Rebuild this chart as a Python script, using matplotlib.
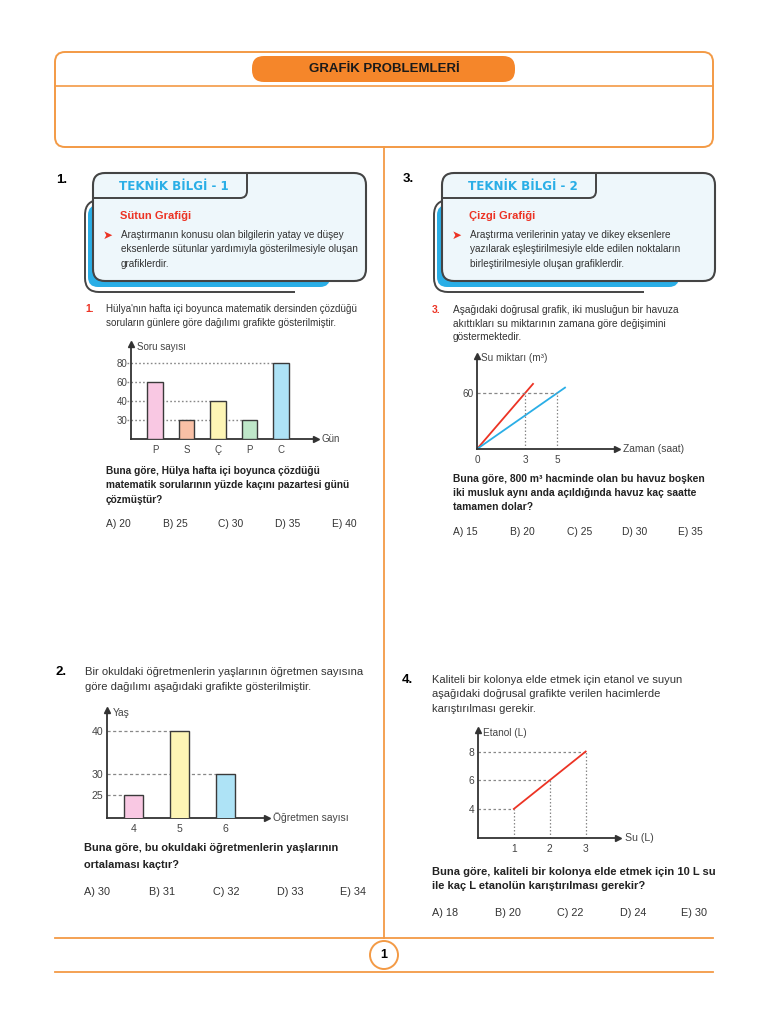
import numpy as np
import matplotlib
matplotlib.use("Agg")
import matplotlib.pyplot as plt
from matplotlib.patches import FancyBboxPatch, Circle
from matplotlib.path import Path
from matplotlib.patches import PathPatch

plt.rcParams['font.family'] = ['Liberation Sans', 'DejaVu Sans']

# ---- data ----
# soru 1: sutun grafigi
gunler = ['P', 'S', 'Ç', 'P', 'C']
soru_sayisi = [60, 30, 40, 30, 80]
soru_ticks = [30, 40, 60, 80]
bar1_colors = ['#F9C8E3', '#F9C0A6', '#FDF5B5', '#BFE7C9', '#AEE3F6']

# soru 2
ogretmen_sayisi = [4, 5, 6]
yas = [25, 40, 30]
bar2_colors = ['#F9C8E3', '#FDF5B5', '#AEE3F6']

# soru 3: iki musluk
musluk_kirmizi_t = [0, 3.5]
musluk_kirmizi_v = [0, 70]
musluk_mavi_t = [0, 5.5]
musluk_mavi_v = [0, 66]

# soru 4
su_L = [1, 2, 3]
etanol_L = [4, 6, 8]

ORANGE = '#F39A45'
ORANGE_D = '#F5862A'
RED = '#EC3324'
CYAN = '#2AAEE6'
GRAY = '#444444'
AX = '#333333'

W, H = 768, 1024
fig = plt.figure(figsize=(W / 100, H / 100), dpi=100)
page = fig.add_axes([0, 0, 1, 1])
page.set_xlim(0, W)
page.set_ylim(H, 0)
page.axis('off')


def txt(x, y, s, size=7.2, **kw):
    page.text(x, y, s, fontsize=size, va='center', **kw)


# ---- header ----
page.add_patch(FancyBboxPatch((55, 52), 658, 95, boxstyle="round,pad=0,rounding_size=10",
                              fc='white', ec=ORANGE, lw=1.4))
page.plot([55, 713], [86, 86], color=ORANGE, lw=1.2)
page.add_patch(FancyBboxPatch((252, 56), 263, 26, boxstyle="round,pad=0,rounding_size=12",
                              fc=ORANGE_D, ec='none'))
page.text(384, 69.5, 'GRAFİK PROBLEMLERİ', fontsize=9.5, fontweight='bold', ha='center',
          va='center', family=['Liberation Sans Narrow', 'Liberation Sans'], color='#1a1a1a')

# column divider and footer
page.plot([384, 384], [147, 938], color=ORANGE, lw=1.3)
page.plot([55, 713], [938, 938], color=ORANGE, lw=1.3)
page.plot([55, 713], [972, 972], color=ORANGE, lw=1.3)
page.add_patch(Circle((384, 955), 14, fc='white', ec=ORANGE, lw=1.4))
page.text(384, 955.5, '1', fontsize=9, fontweight='bold', ha='center', va='center')


def info_box(dx, no, heading, lines):
    # back outline
    verts = [(100 + dx, 200), (85 + dx, 200), (85 + dx, 215), (85 + dx, 278),
             (85 + dx, 292), (99 + dx, 292), (295 + dx, 292)]
    codes = [Path.MOVETO, Path.CURVE3, Path.CURVE3, Path.LINETO,
             Path.CURVE3, Path.CURVE3, Path.LINETO]
    page.add_patch(PathPatch(Path(verts, codes), fc='none', ec=GRAY, lw=1.4))
    # cyan shadow
    page.add_patch(FancyBboxPatch((88 + dx, 205), 242, 82, boxstyle="round,pad=0,rounding_size=10",
                                  fc=CYAN, ec='none'))
    # main box
    page.add_patch(FancyBboxPatch((93 + dx, 173), 273, 108, boxstyle="round,pad=0,rounding_size=12",
                                  fc='#EEF7FB', ec=GRAY, lw=1.5))
    tab = [(93 + dx, 198), (240 + dx, 198), (247 + dx, 198), (247 + dx, 191), (247 + dx, 173)]
    tcodes = [Path.MOVETO, Path.LINETO, Path.CURVE3, Path.CURVE3, Path.LINETO]
    page.add_patch(PathPatch(Path(tab, tcodes), fc='none', ec=GRAY, lw=1.4))
    page.text(174 + dx, 187, 'TEKNİK BİLGİ - ' + no, fontsize=8.6, fontweight='bold',
              color=CYAN, ha='center', va='center', family='DejaVu Sans')
    page.text(120 + dx, 216, heading, fontsize=8.0, fontweight='bold', color=RED, va='center')
    page.text(103 + dx, 235, '➤', fontsize=8.5, color=RED, va='center', family='DejaVu Sans')
    for i, l in enumerate(lines):
        page.text(121 + dx, 235 + i * 14.3, l, fontsize=7.2, color='#333333', va='center')


txt(56, 180, '1.', size=9.5, fontweight='bold')
txt(403, 179, '3.', size=9.5, fontweight='bold')
info_box(0, '1', 'Sütun Grafiği',
         ['Araştırmanın konusu olan bilgilerin yatay ve düşey',
          'eksenlerde sütunlar yardımıyla gösterilmesiyle oluşan',
          'grafiklerdir.'])
info_box(349, '2', 'Çizgi Grafiği',
         ['Araştırma verilerinin yatay ve dikey eksenlere',
          'yazılarak eşleştirilmesiyle elde edilen noktaların',
          'birleştirilmesiyle oluşan grafiklerdir.'])

BODY = '#333333'
BOLD = '#222222'

# ---- problem 1 text ----
txt(85, 309, '1.', size=7.4, fontweight='bold', color=RED)
txt(106, 309, 'Hülya\'nın hafta içi boyunca matematik dersinden çözdüğü', size=7.15, color=BODY)
txt(106, 323, 'soruların günlere göre dağılımı grafikte gösterilmiştir.', size=7.15, color=BODY)
for i, l in enumerate(['Buna göre, Hülya hafta içi boyunca çözdüğü',
                       'matematik sorularının yüzde kaçını pazartesi günü',
                       'çözmüştür?']):
    txt(106, 471 + i * 14.3, l, size=7.3, fontweight='bold', color=BOLD)
for x, s in zip([106, 163, 218, 275, 332], ['A) 20', 'B) 25', 'C) 30', 'D) 35', 'E) 40']):
    txt(x, 524, s, size=7.4, color=BODY)

# ---- problem 3 text ----
txt(432, 310, '3.', size=7.4, fontweight='bold', color=RED)
for i, l in enumerate(['Aşağıdaki doğrusal grafik, iki musluğun bir havuza',
                       'akıttıkları su miktarının zamana göre değişimini',
                       'göstermektedir.']):
    txt(453, 310 + i * 13.7, l, size=7.25, color=BODY)
for i, l in enumerate(['Buna göre, 800 m³ hacminde olan bu havuz boşken',
                       'iki musluk aynı anda açıldığında havuz kaç saatte',
                       'tamamen dolar?']):
    txt(453, 479 + i * 14, l, size=7.4, fontweight='bold', color=BOLD)
for x, s in zip([453, 510, 567, 622, 678], ['A) 15', 'B) 20', 'C) 25', 'D) 30', 'E) 35']):
    txt(x, 532, s, size=7.4, color=BODY)

# ---- problem 2 text ----
txt(56, 672, '2.', size=9.5, fontweight='bold')
txt(85, 672, 'Bir okuldaki öğretmenlerin yaşlarının öğretmen sayısına', size=8.1, color=BODY)
txt(85, 687, 'göre dağılımı aşağıdaki grafikte gösterilmiştir.', size=8.1, color=BODY)
txt(84, 848, 'Buna göre, bu okuldaki öğretmenlerin yaşlarının', size=7.9, fontweight='bold', color=BOLD)
txt(84, 865, 'ortalaması kaçtır?', size=7.9, fontweight='bold', color=BOLD)
for x, s in zip([84, 149, 213, 277, 340], ['A) 30', 'B) 31', 'C) 32', 'D) 33', 'E) 34']):
    txt(x, 892, s, size=7.8, color=BODY)

# ---- problem 4 text ----
txt(402, 680, '4.', size=9.5, fontweight='bold')
for i, l in enumerate(['Kaliteli bir kolonya elde etmek için etanol ve suyun',
                       'aşağıdaki doğrusal grafikte verilen hacimlerde',
                       'karıştırılması gerekir.']):
    txt(432, 680 + i * 14.3, l, size=8.0, color=BODY)
txt(432, 872, 'Buna göre, kaliteli bir kolonya elde etmek için 10 L su', size=8.0, fontweight='bold', color=BOLD)
txt(432, 886, 'ile kaç L etanolün karıştırılması gerekir?', size=8.0, fontweight='bold', color=BOLD)
for x, s in zip([432, 495, 557, 620, 681], ['A) 18', 'B) 20', 'C) 22', 'D) 24', 'E) 30']):
    txt(x, 913, s, size=7.8, color=BODY)


def chart_axes(x0, x1, ytop, ybase):
    ax = fig.add_axes([x0 / W, 1 - ybase / H, (x1 - x0) / W, (ybase - ytop) / H])
    ax.patch.set_alpha(0)
    for s in ['top', 'right']:
        ax.spines[s].set_visible(False)
    for s in ['left', 'bottom']:
        ax.spines[s].set_color(AX)
        ax.spines[s].set_linewidth(1.3)
    ax.plot(1, 0, '>', color=AX, ms=4, transform=ax.transAxes, clip_on=False)
    ax.plot(0, 1, '^', color=AX, ms=4, transform=ax.transAxes, clip_on=False)
    ax.tick_params(length=0, labelsize=6.8, labelcolor='#444444', pad=4)
    ax.tick_params(axis='y', pad=2.5)
    return ax


# ---- chart 1 ----
ax1 = chart_axes(131, 316, 344, 439)
vals = [0, 30, 40, 60, 80, 100]
lvls = [0, 1, 2, 3, 4, 5]
ax1.set_yscale('function', functions=(lambda v: np.interp(v, vals, lvls),
                                      lambda l: np.interp(l, lvls, vals)))
pos1 = np.arange(len(gunler))
ax1.bar(pos1, soru_sayisi, width=0.5, color=bar1_colors, edgecolor='#3a3a3a', lw=1.0, zorder=3)
ax1.set_xlim(-0.76, 5.11)
ax1.set_ylim(0, 100)
ax1.set_yticks(soru_ticks)
ax1.set_xticks(pos1, gunler)
for t in soru_ticks:
    far = max(i for i, v in enumerate(soru_sayisi) if v == t)
    ax1.hlines(t, -0.9, far - 0.25, colors='#888888', linestyles=(0, (1.2, 1.6)), lw=1.0,
               zorder=1, clip_on=False)
ax1.yaxis.set_minor_locator(matplotlib.ticker.NullLocator())
ax1.tick_params(labelsize=7.0)
txt(137, 347, 'Soru sayısı', size=7.0, color='#444444')
txt(322, 439, 'Gün', size=7.0, color='#444444')

# ---- chart 2 ----
ax2 = chart_axes(107, 267, 710, 818)
ax2.bar(ogretmen_sayisi, yas, width=0.41, color=bar2_colors, edgecolor='#3a3a3a', lw=1.0, zorder=3)
ax2.set_xlim(3.42, 6.9)
ax2.set_ylim(19.6, 44.9)
ax2.set_xticks(ogretmen_sayisi)
ax2.set_yticks(sorted(set(yas)))
for x, y in zip(ogretmen_sayisi, yas):
    ax2.hlines(y, 3.42, x - 0.205, colors='#888888', linestyles=(0, (2.5, 2)), lw=0.9, zorder=1)
ax2.tick_params(labelsize=7.6)
txt(113, 713, 'Yaş', size=7.4, color='#444444')
txt(273, 818, 'Öğretmen sayısı', size=7.4, color='#444444')

# ---- chart 3 ----
ax3 = chart_axes(477, 617, 356, 449)
ax3.plot(musluk_kirmizi_t, musluk_kirmizi_v, color=RED, lw=1.3)
ax3.plot(musluk_mavi_t, musluk_mavi_v, color=CYAN, lw=1.3)
ax3.set_xlim(0, 8.75)
ax3.set_ylim(0, 100)
ax3.set_xticks([0, 3, 5])
ax3.set_yticks([60])
ax3.hlines(60, 0, 5, colors='#888888', linestyles=(0, (2.5, 2)), lw=0.9)
ax3.vlines([3, 5], 0, 60, colors='#888888', linestyles=(0, (1.2, 1.6)), lw=0.9)
ax3.tick_params(labelsize=7.2)
txt(481, 358, 'Su miktarı (m³)', size=7.2, color='#444444')
txt(623, 449, 'Zaman (saat)', size=7.4, color='#444444')

# ---- chart 4 ----
ax4 = chart_axes(478, 618, 730, 838)
ax4.plot(su_L, etanol_L, color=RED, lw=1.3, zorder=3)
ax4.set_xlim(0, 3.9)
ax4.set_ylim(1.97, 9.5)
ax4.set_xticks(su_L)
ax4.set_yticks(etanol_L)
for x, y in zip(su_L, etanol_L):
    ax4.hlines(y, 0, x, colors='#888888', linestyles=(0, (2, 2)), lw=0.9)
    ax4.vlines(x, 1.97, y, colors='#888888', linestyles=(0, (1.2, 1.6)), lw=0.9)
ax4.tick_params(labelsize=7.4)
txt(483, 733, 'Etanol (L)', size=7.2, color='#444444')
txt(625, 838, 'Su (L)', size=7.6, color='#444444')

fig.savefig('out.png', dpi=100)
